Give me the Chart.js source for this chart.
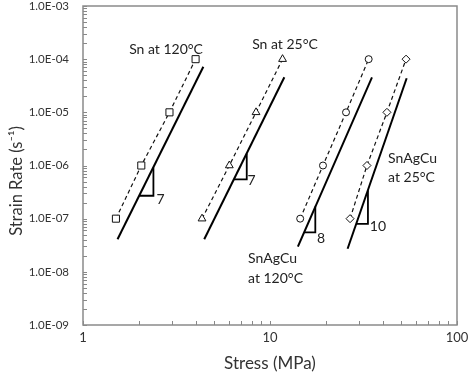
<!DOCTYPE html>
<html lang="en">
  <head>
    <meta charset="utf-8" />
    <title>Strain rate vs stress</title>
    <script src="https://cdn.jsdelivr.net/npm/chart.js"></script>
    <style>
      body { margin: 0; background: #fff; }
    </style>
  </head>
  <body>
    <canvas id="myChart" width="474" height="386"></canvas>

    <script>
      // strain rate levels of the measured points (same for every alloy)
      var rateLevels = [1e-7, 1e-6, 1e-5, 1e-4];

      // measured stress (MPa) for each rate level
      var stressSn120 = [1.5, 2.05, 2.9, 4.0];
      var stressSn25 = [4.33, 6.06, 8.42, 11.67];
      var stressSAC120 = [14.5, 19.2, 25.5, 33.7];
      var stressSAC25 = [26.8, 33.0, 42.2, 53.4];

      // solid fit lines: two end points each
      var fitSn120Stress = [1.53, 4.4];
      var fitSn120Rate = [4.1e-8, 7.2e-5];
      var fitSn25Stress = [4.45, 11.93];
      var fitSn25Rate = [4.1e-8, 4.56e-5];
      var fitSAC120Stress = [14.1, 35.1];
      var fitSAC120Rate = [2.97e-8, 4.56e-5];
      var fitSAC25Stress = [26.0, 53.8];
      var fitSAC25Rate = [2.72e-8, 4.37e-5];

      // slope triangles under the fit lines
      var triSn120Stress = [2.0, 2.38, 2.38];
      var triSn120Rate = [2.7e-7, 2.7e-7, 9.2e-7];
      var triSn25Stress = [6.42, 7.51, 7.51];
      var triSn25Rate = [5.5e-7, 5.5e-7, 1.68e-6];
      var triSAC120Stress = [15.2, 17.47, 17.47];
      var triSAC120Rate = [5.5e-8, 5.5e-8, 1.69e-7];
      var triSAC25Stress = [28.9, 33.4, 33.4];
      var triSAC25Rate = [8.0e-8, 8.0e-8, 3.44e-7];

      // text labels placed in data coordinates
      var labelTexts = ["Sn at 120°C", "Sn at 25°C", "SnAgCu", "at 25°C", "SnAgCu", "at 120°C", "7", "7", "8", "10"];
      var labelStress = [2.78, 12.03, 42.8, 42.8, 7.63, 7.63, 2.6, 7.96, 18.74, 37.8];
      var labelRate = [1.53e-4, 1.85e-4, 1.38e-6, 6.08e-7, 1.75e-8, 7.34e-9, 2.34e-7, 5.12e-7, 4.15e-8, 7.06e-8];
      var labelAlign = ["center", "center", "left", "left", "left", "left", "center", "center", "center", "center"];

      var xMin = 1, xMax = 100;
      var yMin = 1e-9, yMax = 1e-3;
      var yTitle = "Strain Rate (s⁻¹)";

      let zip = (xs, ys) => xs.map((x, i) => ({ x: x, y: ys[i] }));

      let logTicks = (min, max) => {
        let ticks = [];
        for (let d = Math.log10(min); d < Math.log10(max); d++) {
          for (let m = 1; m < 10; m++) {
            ticks.push({ value: m * Math.pow(10, d) });
          }
        }
        ticks.push({ value: max });
        return ticks;
      };

      let isDecade = (v) => Math.abs(Math.log10(v) - Math.round(Math.log10(v))) < 1e-6;

      let pointSet = (stress, style, radius) => ({
        data: zip(stress, rateLevels),
        showLine: true,
        borderColor: "#111",
        borderWidth: 1.2,
        borderDash: [4, 3],
        pointStyle: style,
        pointRadius: radius,
        pointBorderWidth: 1,
        pointBorderColor: "#111",
        pointBackgroundColor: "#fff",
      });

      let lineSet = (stress, rate, width) => ({
        data: zip(stress, rate),
        showLine: true,
        borderColor: "#000",
        borderWidth: width,
        pointRadius: 0,
      });

      var framePlugin = {
        id: "frame",
        beforeDatasetsDraw: (chart) => {
          let ctx = chart.ctx;
          let a = chart.chartArea;
          let xs = chart.scales.x;
          let ys = chart.scales.y;
          ctx.save();
          ctx.strokeStyle = "#888";
          ctx.lineWidth = 1;
          xs.ticks.forEach((t) => {
            let px = Math.round(xs.getPixelForValue(t.value)) + 0.5;
            ctx.beginPath();
            ctx.moveTo(px, a.bottom);
            ctx.lineTo(px, a.bottom - 4);
            ctx.stroke();
          });
          ys.ticks.forEach((t) => {
            let py = Math.round(ys.getPixelForValue(t.value)) + 0.5;
            ctx.beginPath();
            ctx.moveTo(a.left, py);
            ctx.lineTo(a.left + 4, py);
            ctx.stroke();
          });
          ctx.lineWidth = 1.5;
          ctx.strokeStyle = "#8a8a8a";
          ctx.strokeRect(a.left, a.top, a.right - a.left, a.bottom - a.top);
          ctx.restore();
        },
        afterDraw: (chart) => {
          let ctx = chart.ctx;
          let xs = chart.scales.x;
          let ys = chart.scales.y;
          ctx.save();
          ctx.fillStyle = "#222";
          ctx.font = "14px Lato";
          ctx.textBaseline = "middle";
          labelTexts.forEach((txt, i) => {
            ctx.textAlign = labelAlign[i];
            ctx.fillText(txt, xs.getPixelForValue(labelStress[i]), ys.getPixelForValue(labelRate[i]));
          });
          // y axis title, sitting a little below the middle as in the original
          ctx.fillStyle = "#333";
          ctx.font = "16.5px Lato";
          ctx.textAlign = "center";
          ctx.translate(17, 181);
          ctx.rotate(-Math.PI / 2);
          ctx.fillText(yTitle, 0, 0);
          ctx.restore();
        },
      };

      Chart.defaults.font.family = "Lato";
      Chart.defaults.color = "#333";

      var myChart = new Chart(document.getElementById("myChart"), {
        type: "scatter",
        data: {
          datasets: [
            pointSet(stressSn120, "rect", 5),
            pointSet(stressSn25, "triangle", 4.5),
            pointSet(stressSAC120, "circle", 3.5),
            pointSet(stressSAC25, "rectRot", 4),
            lineSet(fitSn120Stress, fitSn120Rate, 2),
            lineSet(fitSn25Stress, fitSn25Rate, 2),
            lineSet(fitSAC120Stress, fitSAC120Rate, 2),
            lineSet(fitSAC25Stress, fitSAC25Rate, 2),
            lineSet(triSn120Stress, triSn120Rate, 1.8),
            lineSet(triSn25Stress, triSn25Rate, 1.8),
            lineSet(triSAC120Stress, triSAC120Rate, 1.8),
            lineSet(triSAC25Stress, triSAC25Rate, 1.8),
          ],
        },
        options: {
          responsive: false,
          animation: false,
          devicePixelRatio: 1,
          layout: { padding: { top: 6, right: 17, left: 0, bottom: 0 } },
          plugins: { legend: { display: false }, tooltip: { enabled: false } },
          scales: {
            x: {
              type: "logarithmic",
              min: xMin,
              max: xMax,
              afterBuildTicks: (scale) => { scale.ticks = logTicks(xMin, xMax); },
              afterFit: (scale) => {
                scale.height = 61;
                scale.paddingLeft = 0;
                scale.paddingRight = 0;
              },
              grid: { display: false },
              border: { display: false },
              ticks: {
                autoSkip: false,
                maxRotation: 0,
                padding: -3,
                font: { size: 13 },
                color: "#333",
                callback: (v) => (isDecade(v) ? String(Math.round(v)) : ""),
              },
              title: {
                display: true,
                text: "Stress (MPa)",
                font: { size: 17 },
                color: "#333",
                padding: { top: 0, bottom: 12 },
              },
            },
            y: {
              type: "logarithmic",
              min: yMin,
              max: yMax,
              afterBuildTicks: (scale) => { scale.ticks = logTicks(yMin, yMax); },
              afterFit: (scale) => {
                scale.width = 83;
                scale.paddingTop = 0;
                scale.paddingBottom = 0;
              },
              grid: { display: false },
              border: { display: false },
              ticks: {
                autoSkip: false,
                padding: 6,
                font: { size: 11.5 },
                color: "#333",
                callback: (v) => {
                  if (!isDecade(v)) return "";
                  let e = Math.round(Math.log10(v));
                  return "1.0E-0" + -e;
                },
              },
            },
          },
        },
        plugins: [framePlugin],
      });
    </script>
  </body>
</html>
